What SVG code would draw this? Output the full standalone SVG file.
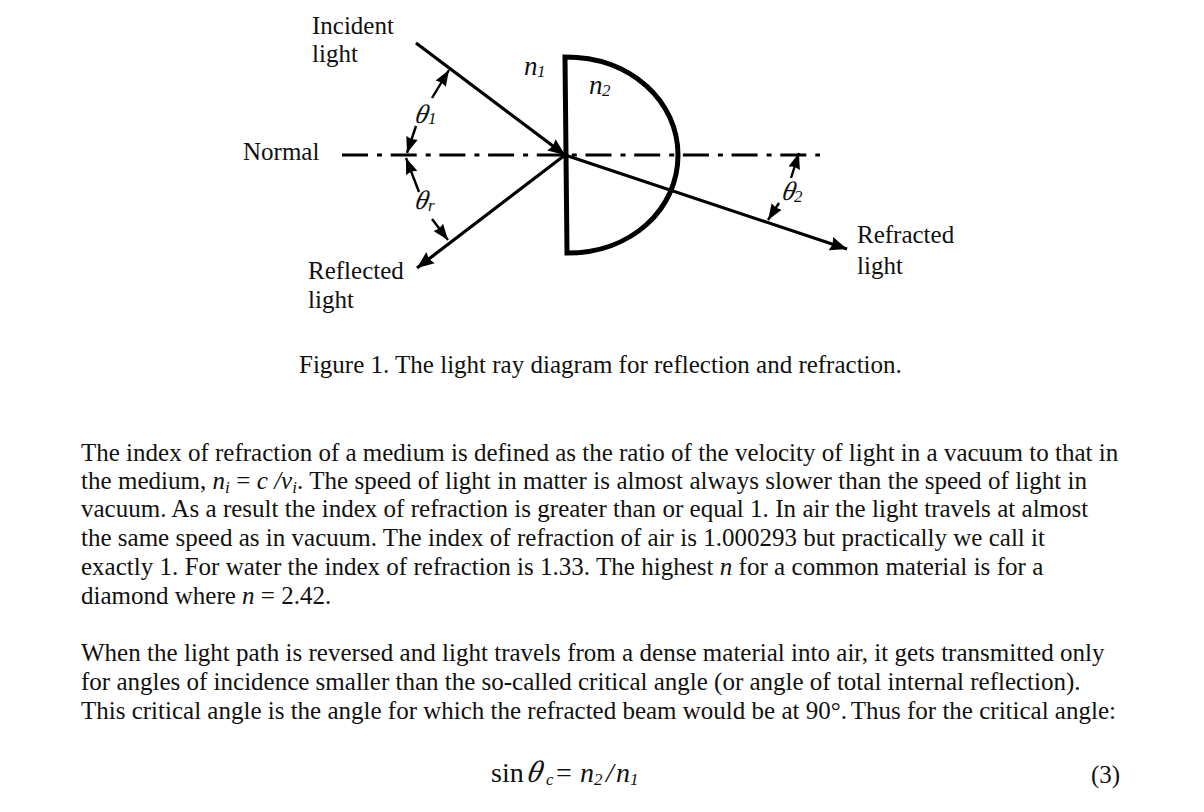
<svg xmlns="http://www.w3.org/2000/svg" width="1204" height="812" viewBox="0 0 1204 812">
<style>
text{font-family:"Liberation Serif","Times New Roman",serif;font-size:25px;fill:#111}
.i{font-style:italic}
.s{font-size:17px;font-style:italic}
.m{font-size:27px;font-style:italic}
.e{font-size:28px}
.ray{fill:none;stroke:#000;stroke-width:3.200}
.dim{fill:none;stroke:#000;stroke-width:2.400}
</style>
<defs>
<marker id="big" markerUnits="userSpaceOnUse" markerWidth="18" markerHeight="15" refX="17" refY="7.500" orient="auto"><path d="M0 0.500L17 7.500L0 14.500L2 7.500Z" fill="#000"/></marker>
<marker id="sm" markerUnits="userSpaceOnUse" markerWidth="17" markerHeight="13" refX="16" refY="6.500" orient="auto"><path d="M0 0.500L16 6.500L0 12.500L1.500 6.500Z" fill="#000"/></marker>
</defs>
<rect width="1204" height="812" fill="#fff"/>
<g id="connectors">
<path class="ray" d="M342 155H820" stroke-dasharray="26 9 5 8.700"/>
<path class="ray" d="M416 43L565 155" marker-end="url(#big)"/>
<path class="ray" d="M565 155L417 268" marker-end="url(#big)"/>
<path class="ray" d="M565 155L847 249" marker-end="url(#big)"/>
<path class="dim" d="M432 98L449 70" marker-end="url(#sm)"/>
<path class="dim" d="M416 126L407 153" marker-end="url(#sm)"/>
<path class="dim" d="M419 192L406 158" marker-end="url(#sm)"/>
<path class="dim" d="M432 219L448 240" marker-end="url(#sm)"/>
<path class="dim" d="M791 178L799 153" marker-end="url(#sm)"/>
<path class="dim" d="M779 203L768 220" marker-end="url(#sm)"/>
</g>
<g id="lens"><path d="M565 57C632 57 678 102 678 155C678 209 632 253 567 253Z" fill="none" stroke="#000" stroke-width="5"/></g>
<g id="label-incident"><text x="312" y="34">Incident</text><text x="312" y="62">light</text></g>
<g id="label-normal"><text x="243" y="160">Normal</text></g>
<g id="label-reflected"><text x="308" y="279">Reflected</text><text x="308" y="308">light</text></g>
<g id="label-refracted"><text x="857" y="243">Refracted</text><text x="857" y="274">light</text></g>
<g id="label-n1"><text class="m" x="524" y="75">n</text><text class="s" x="537" y="77">1</text></g>
<g id="label-n2"><text class="m" x="589" y="94">n</text><text class="s" x="602" y="96">2</text></g>
<g id="label-theta1"><text class="m" transform="translate(414 123) skewX(-12)">θ</text><text class="s" x="428" y="124">1</text></g>
<g id="label-thetar"><text class="m" transform="translate(414 209) skewX(-12)">θ</text><text class="s" x="428" y="211">r</text></g>
<g id="label-theta2"><text class="m" transform="translate(781 200) skewX(-12)">θ</text><text class="s" x="794" y="202">2</text></g>
<g id="caption"><text x="299" y="373">Figure 1. The light ray diagram for reflection and refraction.</text></g>
<g id="body">
<text x="81" y="461">The index of refraction of a medium is defined as the ratio of the velocity of light in a vacuum to that in</text>
<text x="81" y="489" word-spacing="0.150">the medium, <tspan class="i">n</tspan><tspan class="s" dy="4">i</tspan><tspan dy="-4"> = </tspan><tspan class="i">c /v</tspan><tspan class="s" dy="4">i</tspan><tspan dy="-4">. The speed of light in matter is almost always slower than the speed of light in</tspan></text>
<text x="81" y="517" word-spacing="0.100">vacuum. As a result the index of refraction is greater than or equal 1. In air the light travels at almost</text>
<text x="81" y="546" word-spacing="0.050">the same speed as in vacuum. The index of refraction of air is 1.000293 but practically we call it</text>
<text x="81" y="575" word-spacing="0.100">exactly 1. For water the index of refraction is 1.33. The highest <tspan class="i">n</tspan> for a common material is for a</text>
<text x="81" y="604">diamond where <tspan class="i">n</tspan> = 2.42.</text>
<text x="81" y="661" word-spacing="0.100">When the light path is reversed and light travels from a dense material into air, it gets transmitted only</text>
<text x="81" y="690">for angles of incidence smaller than the so-called critical angle (or angle of total internal reflection).</text>
<text x="81" y="719">This critical angle is the angle for which the refracted beam would be at 90°.<tspan dx="-2"> Thus for the critical angle:</tspan></text>
</g>
<g id="equation">
<text class="e" x="491" y="782">sin</text>
<text class="e i" style="font-size:31px" transform="translate(526 782) skewX(-12)">θ</text>
<text class="s" x="546" y="785">c</text>
<text class="e" x="556" y="782">=</text>
<text class="e i" x="580" y="782">n</text>
<text class="s" x="594" y="785">2</text>
<text class="e i" x="606" y="782">/</text>
<text class="e i" x="616" y="782">n</text>
<text class="s" x="630" y="785">1</text>
<text x="1091" y="783">(3)</text>
</g>
</svg>
